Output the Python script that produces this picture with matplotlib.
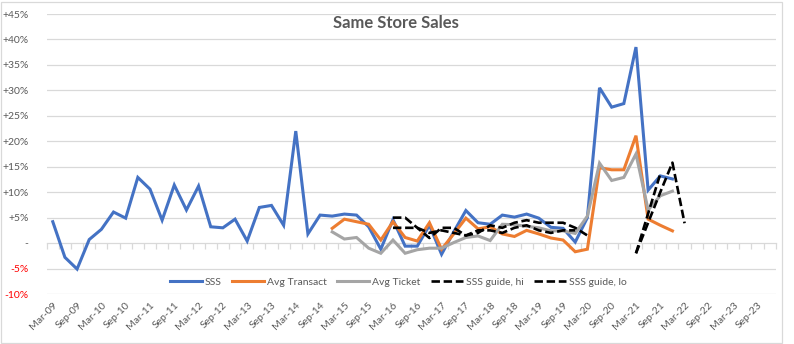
import numpy as np
import matplotlib
matplotlib.use("Agg")
import matplotlib.pyplot as plt
from matplotlib.patches import Rectangle

plt.rcParams["font.family"] = ["Lato", "DejaVu Sans"]

# Quarterly categories, Mar-09 through Dec-23; every other quarter is labelled
n_quarters = 60
tick_labels = [f"{m}-{y:02d}" for y in range(9, 24) for m in ("Mar", "Sep")]

# Same store sales, % change (from Mar-09)
sss = [4.2, -2.8, -5.1, 0.7, 2.7, 6.1, 4.9, 12.9, 10.6, 4.5,
       11.4, 6.5, 11.2, 3.2, 3.0, 4.7, 0.4, 7.0, 7.4, 3.5,
       22.0, 1.8, 5.5, 5.3, 5.7, 5.5, 3.2, -1.2, 4.6, -0.6,
       -0.6, 3.5, -2.2, 2.2, 6.4, 4.0, 3.7, 5.5, 5.1, 5.7,
       4.9, 3.1, 2.9, 0.2, 5.0, 30.5, 26.7, 27.4, 38.5, 10.4,
       13.2, 12.6]
sss_start = 0

# Average transactions and average ticket (from Dec-14)
avg_transact = [2.9, 4.7, 4.2, 3.7, 0.6, 4.2, 1.1, 0.4, 4.0, -1.2,
                1.8, 4.9, 2.8, 3.2, 1.8, 1.3, 2.5, 1.8, 1.0, 0.6,
                -1.7, -1.2, 14.8, 14.4, 14.4, 21.1, 4.7, 3.5, 2.4]
avg_ticket = [2.2, 0.8, 1.1, -1.0, -2.0, 0.6, -2.0, -1.3, -1.0, -1.0,
              0.1, 1.1, 1.4, 0.5, 3.7, 3.6, 3.3, 3.0, 2.4, 2.4,
              1.9, 5.3, 15.7, 12.3, 12.9, 17.5, 6.5, 9.3, 10.2]
detail_start = 23

# Management guidance, high and low ends (from Mar-16)
guide_hi = [5.0, 5.0, 3.0, 1.0, 3.0, 3.0, 1.5, 2.0, 3.5, 3.0,
            4.0, 4.5, 4.0, 4.0, 4.0, 3.0, 1.5,
            None, None, None,
            -2.0, 4.0, 10.0, 15.8, 3.9]
guide_lo = [3.0, 3.0, 3.0, 2.0, 2.5, 2.0, 1.5, 2.5, 2.5, 2.0,
            3.0, 3.5, 2.5, 2.0, 2.5, 2.5,
            None, None, None, None,
            -2.0, 5.8, 13.6]
guide_start = 28


def full_series(start, values):
    out = np.full(n_quarters, np.nan)
    vals = np.array([np.nan if v is None else v for v in values], dtype=float)
    out[start:start + len(vals)] = vals
    return out


x = np.arange(n_quarters)

W, H, DPI = 794, 344, 100
fig = plt.figure(figsize=(W / DPI, H / DPI), dpi=DPI)
fig.patch.set_facecolor("white")

left, right, top, bottom = 46.7, 775.7, 14, 294
ax = fig.add_axes([left / W, 1 - bottom / H, (right - left) / W, (bottom - top) / H])
ax.set_facecolor("none")

grid_c = "#d9d9d9"
text_c = "#595959"

ax.set_xlim(-0.5, n_quarters - 0.5)
ax.set_ylim(-10, 45)

# horizontal gridlines
yticks = np.arange(-10, 46, 5)
for yv in yticks:
    if yv != 0:
        ax.axhline(yv, color=grid_c, lw=0.9, zorder=0)

for s in ("left", "right", "top"):
    ax.spines[s].set_visible(False)
ax.spines["bottom"].set_position(("data", 0))
ax.spines["bottom"].set_color(grid_c)
ax.spines["bottom"].set_linewidth(0.9)
ax.set_xticks([])
ax.set_xticks(np.arange(n_quarters + 1) - 0.5, minor=True)
ax.tick_params(axis="x", which="minor", direction="out", length=4,
               color=grid_c, width=0.9)

ytick_labels = []
for yv in yticks:
    if yv == 0:
        ytick_labels.append("-")
    elif yv > 0:
        ytick_labels.append(f"+{yv}%")
    else:
        ytick_labels.append(f"{yv}%")
ax.set_yticks(yticks)
ax.set_yticklabels(ytick_labels, fontsize=7.5)
ax.tick_params(axis="y", length=0, pad=13)
for lab, yv in zip(ax.get_yticklabels(), yticks):
    lab.set_color("#ff0000" if yv < 0 else text_c)

# category labels along the bottom edge, rotated
for k, lab in enumerate(tick_labels):
    ax.text(2 * k, -0.022, lab, transform=ax.get_xaxis_transform(),
            rotation=45, rotation_mode="anchor", ha="right", va="top",
            fontsize=7.5, color=text_c)

lw = 2.2
ax.plot(x, full_series(sss_start, sss), color="#4472C4", lw=lw,
        label="SSS", solid_joinstyle="miter", zorder=3)
ax.plot(x, full_series(detail_start, avg_transact), color="#ED7D31", lw=lw,
        label="Avg Transact", solid_joinstyle="miter", zorder=3)
ax.plot(x, full_series(detail_start, avg_ticket), color="#A5A5A5", lw=lw,
        label="Avg Ticket", solid_joinstyle="miter", zorder=3)
ax.plot(x, full_series(guide_start, guide_hi), color="black", lw=1.9,
        dashes=(3.2, 1.4), label="SSS guide, hi", zorder=4)
ax.plot(x, full_series(guide_start, guide_lo), color="black", lw=1.9,
        dashes=(3.2, 1.4), label="SSS guide, lo", zorder=4)

leg = fig.legend(*ax.get_legend_handles_labels(), loc="center",
                 bbox_to_anchor=(398 / W, 1 - 282 / H), ncol=5, frameon=False,
                 fontsize=7.5, handlelength=3.1, handletextpad=0.25,
                 columnspacing=1.0, borderpad=0)
for t in leg.get_texts():
    t.set_color(text_c)

fig.text(395.5 / W, 1 - 22.7 / H, "Same Store Sales", ha="center", va="center",
         fontsize=12, fontweight="bold", color=text_c)

# chart area border
fig.add_artist(Rectangle((1 / W, 1 / H), 781 / W, 341 / H, transform=fig.transFigure,
                         fill=False, ec=grid_c, lw=0.9))

fig.savefig("out.png", dpi=DPI, facecolor="white")
